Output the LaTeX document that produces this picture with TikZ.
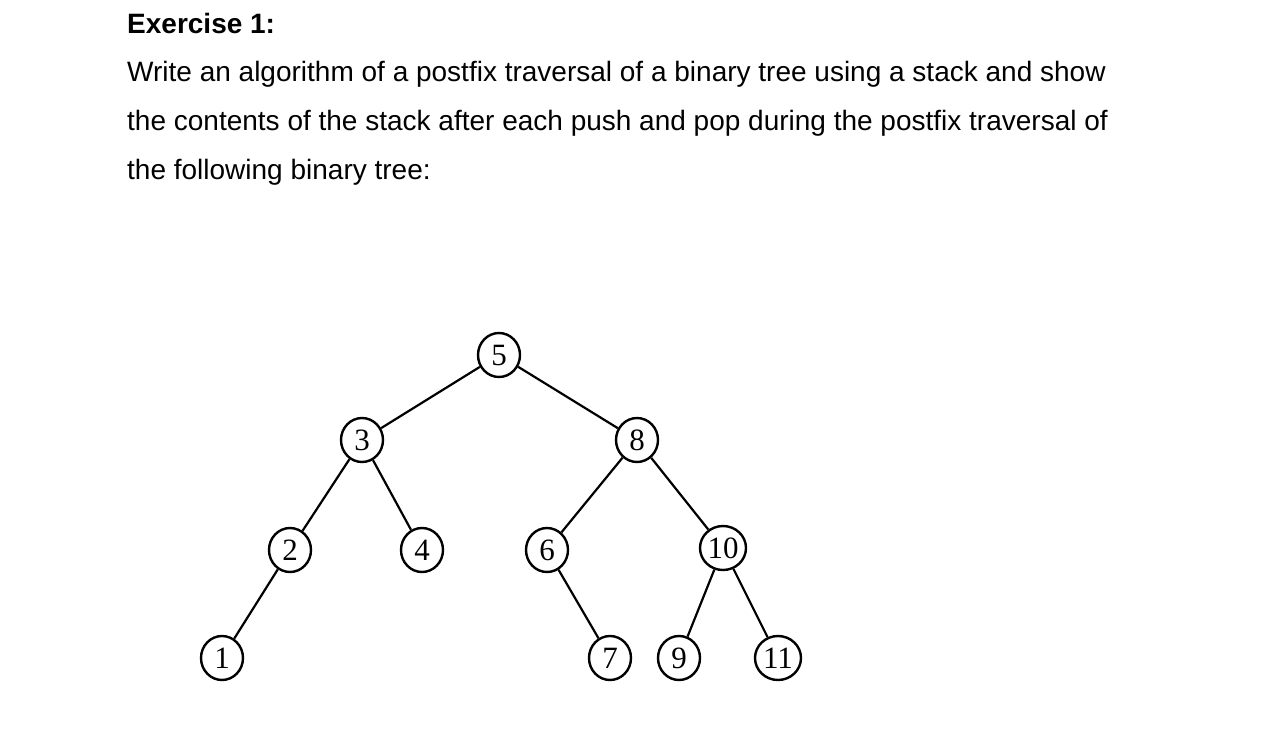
\documentclass[tikz,border=0pt]{standalone}
\usepackage{fontspec}
\usetikzlibrary{shapes.geometric}
\setmainfont{Liberation Sans}
\newfontfamily\serifnum{Liberation Serif}
\begin{document}
\begin{tikzpicture}[x=1pt,y=-1pt,
  tn/.style={draw,ellipse,line width=2.4pt,minimum width=42pt,minimum height=44pt,inner sep=0pt,font=\serifnum\fontsize{31}{31}\selectfont},
  ed/.style={line width=2.2pt},
  tx/.style={anchor=base west,inner sep=0pt,font=\fontsize{28}{32}\selectfont}]
\useasboundingbox (0,0) rectangle (1284,730);
\node[tx,font=\bfseries\fontsize{28}{32}\selectfont] (t0) at (127,34) {Exercise 1:};
\node[tx] (t1) at (127,82) {Write an algorithm of a postfix traversal of a binary tree using a stack and show};
\node[tx] (t2) at (127,131) {the contents of the stack after each push and pop during the postfix traversal of};
\node[tx] (t3) at (127,179) {the following binary tree:};
\node[tn] (n5) at (499,355) {5};
\node[tn] (n3) at (362,440) {3};
\node[tn] (n8) at (637,440) {8};
\node[tn] (n2) at (290,550) {2};
\node[tn] (n4) at (422,550) {4};
\node[tn] (n6) at (547,550) {6};
\node[tn,minimum width=46pt] (n10) at (723,548) {10};
\node[tn] (n1) at (222,658) {1};
\node[tn] (n7) at (610,658) {7};
\node[tn] (n9) at (679,658) {9};
\node[tn,minimum width=46pt] (n11) at (778,658) {11};
\draw[ed] (n5)--(n3); \draw[ed] (n5)--(n8);
\draw[ed] (n3)--(n2); \draw[ed] (n3)--(n4);
\draw[ed] (n8)--(n6); \draw[ed] (n8)--(n10);
\draw[ed] (n2)--(n1); \draw[ed] (n6)--(n7);
\draw[ed] (n10)--(n9); \draw[ed] (n10)--(n11);
\end{tikzpicture}
\end{document}
